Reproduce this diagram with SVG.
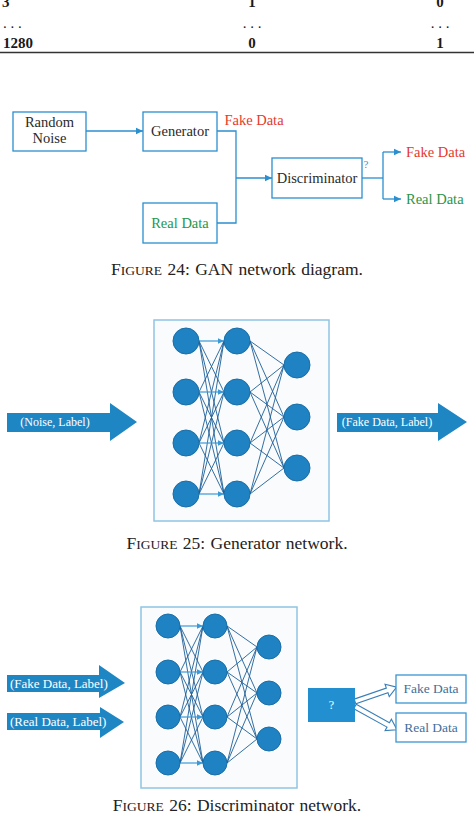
<svg xmlns="http://www.w3.org/2000/svg" width="474" height="816" viewBox="0 0 474 816">
<defs>
<style>
.tbl{font-family:"Liberation Serif",serif;font-weight:bold;font-size:15px;fill:#1a1a1a;}
.box{fill:#fff;stroke:#2b8fd0;stroke-width:1.3;}
.conn{fill:none;stroke:#2b8fd0;stroke-width:1.3;}
.t24{font-family:"Liberation Serif",serif;font-size:14.5px;fill:#2a2a2a;text-anchor:middle;}
.red{fill:#e6392d;}
.green{fill:#26964a;}
.cap{font-family:"Liberation Serif",serif;font-size:17.5px;fill:#222;text-anchor:middle;word-spacing:1px;}
.frame{fill:#f9fbfd;stroke:#8fc5e4;stroke-width:1.5;}
.node{fill:#1f82c2;stroke:#1a6ea8;stroke-width:1;}
.edge{stroke:#1d5f96;stroke-width:0.9;fill:none;}
.hedge{stroke:#3a9ad8;stroke-width:1.2;fill:none;}
.barrow{fill:#1f86c4;}
.wt{font-family:"Liberation Serif",serif;fill:#fff;}
.obox{fill:#fff;stroke:#3b95d2;stroke-width:1.3;}
.otxt{font-family:"Liberation Serif",serif;font-size:13.5px;fill:#3f6f9c;text-anchor:middle;}
.harrow{fill:#fff;stroke:#3a7fb8;stroke-width:1.1;stroke-linejoin:miter;}
</style>
<marker id="ah" markerWidth="8" markerHeight="8" refX="7" refY="4" orient="auto" markerUnits="userSpaceOnUse">
<path d="M0,0.8 L7,4 L0,7.2 Z" fill="#2b8fd0"/>
</marker>
<marker id="ah2" markerWidth="7" markerHeight="7" refX="6" refY="3.5" orient="auto" markerUnits="userSpaceOnUse">
<path d="M0,0.8 L6,3.5 L0,6.2 Z" fill="#3a9ad8"/>
</marker>
</defs>

<!-- table remnant -->
<g id="table">
<text class="tbl" x="2" y="7">3</text>
<text class="tbl" x="252" y="7" text-anchor="middle">1</text>
<text class="tbl" x="440" y="7" text-anchor="middle">0</text>
<text class="tbl" x="3" y="28" style="font-weight:normal">. . .</text>
<text class="tbl" x="252" y="28" text-anchor="middle" style="font-weight:normal">. . .</text>
<text class="tbl" x="440" y="28" text-anchor="middle" style="font-weight:normal">. . .</text>
<text class="tbl" x="3" y="48">1280</text>
<text class="tbl" x="252" y="48" text-anchor="middle">0</text>
<text class="tbl" x="440" y="48" text-anchor="middle">1</text>
<line x1="0" y1="52.5" x2="474" y2="52.5" stroke="#333" stroke-width="1.5"/>
</g>

<!-- Figure 24 -->
<g id="fig24-connectors">
<line class="conn" x1="86" y1="131" x2="143" y2="131" marker-end="url(#ah)"/>
<polyline class="conn" points="217,131 236,131 236,223 217,223"/>
<line class="conn" x1="236" y1="178" x2="272" y2="178" marker-end="url(#ah)"/>
<line class="conn" x1="362" y1="178" x2="383" y2="178"/>
<line class="conn" x1="383" y1="152" x2="383" y2="199"/>
<line class="conn" x1="383" y1="152" x2="401" y2="152" marker-end="url(#ah)"/>
<line class="conn" x1="383" y1="199" x2="401" y2="199" marker-end="url(#ah)"/>
</g>
<g id="random-noise">
<rect class="box" x="13" y="112" width="73" height="39"/>
<text class="t24" x="49.5" y="127">Random</text>
<text class="t24" x="49.5" y="143">Noise</text>
</g>
<g id="generator">
<rect class="box" x="143" y="112" width="74" height="39"/>
<text class="t24" x="180" y="136">Generator</text>
</g>
<g id="real-data-src">
<rect class="box" x="143" y="203" width="74" height="40"/>
<text class="t24 green" x="180" y="228">Real Data</text>
</g>
<g id="discriminator">
<rect class="box" x="272" y="158" width="90" height="40"/>
<text class="t24" x="317" y="183">Discriminator</text>
</g>
<g id="fig24-labels">
<text class="t24 red" x="254" y="125">Fake Data</text>
<text class="t24" x="366" y="168" style="fill:#3a93d0;font-size:11px">?</text>
<text class="t24 red" x="406" y="157" style="text-anchor:start">Fake Data</text>
<text class="t24 green" x="406" y="204" style="text-anchor:start">Real Data</text>
</g>
<text class="cap" x="237" y="275">F<tspan font-size="13.5">IGURE</tspan> 24: GAN network diagram.</text>

<!-- Figure 25 -->
<g id="fig25-frame"><rect class="frame" x="154" y="320" width="175" height="201"/></g>
<g id="fig25-connectors">
<path class="edge" d="M199,341 L224,392 M199,341 L224,443 M199,341 L224,494
M199,392 L224,341 M199,392 L224,443 M199,392 L224,494
M199,443 L224,341 M199,443 L224,392 M199,443 L224,494
M199,494 L224,341 M199,494 L224,392 M199,494 L224,443"/>
<line class="hedge" x1="199" y1="341" x2="224" y2="341" marker-end="url(#ah2)"/>
<line class="hedge" x1="199" y1="392" x2="224" y2="392" marker-end="url(#ah2)"/>
<line class="hedge" x1="199" y1="443" x2="224" y2="443" marker-end="url(#ah2)"/>
<line class="hedge" x1="199" y1="494" x2="224" y2="494" marker-end="url(#ah2)"/>
<path class="edge" d="M250,341 L284,365 M250,341 L284,417 M250,341 L284,468
M250,392 L284,365 M250,392 L284,417 M250,392 L284,468
M250,443 L284,365 M250,443 L284,417 M250,443 L284,468
M250,494 L284,365 M250,494 L284,417 M250,494 L284,468"/>
</g>
<g id="fig25-nodes">
<circle class="node" cx="186" cy="341" r="13"/>
<circle class="node" cx="186" cy="392" r="13"/>
<circle class="node" cx="186" cy="443" r="13"/>
<circle class="node" cx="186" cy="494" r="13"/>
<circle class="node" cx="237" cy="341" r="13"/>
<circle class="node" cx="237" cy="392" r="13"/>
<circle class="node" cx="237" cy="443" r="13"/>
<circle class="node" cx="237" cy="494" r="13"/>
<circle class="node" cx="297" cy="365" r="13"/>
<circle class="node" cx="297" cy="417" r="13"/>
<circle class="node" cx="297" cy="468" r="13"/>
</g>
<g id="noise-label-arrow">
<polygon class="barrow" points="7,413 110,413 110,403 137,422 110,441 110,432 7,432"/>
<text class="wt" x="55" y="426" font-size="12" text-anchor="middle">(Noise, Label)</text>
</g>
<g id="fake-label-arrow">
<polygon class="barrow" points="337,413 438,413 438,403 467,422 438,441 438,432 337,432"/>
<text class="wt" x="387" y="426" font-size="12" text-anchor="middle">(Fake Data, Label)</text>
</g>
<text class="cap" x="237" y="549">F<tspan font-size="13.5">IGURE</tspan> 25: Generator network.</text>

<!-- Figure 26 -->
<g id="fig26-frame"><rect class="frame" x="141" y="607" width="156" height="181"/></g>
<g id="fig26-connectors">
<path class="edge" d="M180,626 L203,672 M180,626 L203,717 M180,626 L203,763
M180,672 L203,626 M180,672 L203,717 M180,672 L203,763
M180,717 L203,626 M180,717 L203,672 M180,717 L203,763
M180,763 L203,626 M180,763 L203,672 M180,763 L203,717"/>
<line class="hedge" x1="180" y1="626" x2="203" y2="626" marker-end="url(#ah2)"/>
<line class="hedge" x1="180" y1="672" x2="203" y2="672" marker-end="url(#ah2)"/>
<line class="hedge" x1="180" y1="717" x2="203" y2="717" marker-end="url(#ah2)"/>
<line class="hedge" x1="180" y1="763" x2="203" y2="763" marker-end="url(#ah2)"/>
<path class="edge" d="M227,626 L257,647 M227,626 L257,693 M227,626 L257,739
M227,672 L257,647 M227,672 L257,693 M227,672 L257,739
M227,717 L257,647 M227,717 L257,693 M227,717 L257,739
M227,763 L257,647 M227,763 L257,693 M227,763 L257,739"/>
<polygon class="harrow" points="0,-2.5 34,-2.5 34,-6.5 44,0 34,6.5 34,2.5 0,2.5" transform="translate(355,701.5) rotate(-19)"/>
<polygon class="harrow" points="0,-2.5 38,-2.5 38,-6.5 48,0 38,6.5 38,2.5 0,2.5" transform="translate(355,706.5) rotate(29)"/>
</g>
<g id="fig26-nodes">
<circle class="node" cx="168" cy="626" r="12"/>
<circle class="node" cx="168" cy="672" r="12"/>
<circle class="node" cx="168" cy="717" r="12"/>
<circle class="node" cx="168" cy="763" r="12"/>
<circle class="node" cx="215" cy="626" r="12"/>
<circle class="node" cx="215" cy="672" r="12"/>
<circle class="node" cx="215" cy="717" r="12"/>
<circle class="node" cx="215" cy="763" r="12"/>
<circle class="node" cx="269" cy="647" r="12"/>
<circle class="node" cx="269" cy="693" r="12"/>
<circle class="node" cx="269" cy="739" r="12"/>
</g>
<g id="fake-in-arrow">
<polygon class="barrow" points="7,675 99,675 99,665 125,683 99,698 99,692 7,692"/>
<text class="wt" x="10" y="688" font-size="13">(Fake Data, Label)</text>
</g>
<g id="real-in-arrow">
<polygon class="barrow" points="7,713 100,713 100,707 124,722 100,738 100,730 7,730"/>
<text class="wt" x="10" y="726" font-size="13">(Real Data, Label)</text>
</g>
<g id="question-box">
<rect x="308" y="688" width="47" height="34" fill="#2290d0"/>
<text class="wt" x="331.5" y="709" font-size="12" text-anchor="middle">?</text>
</g>
<g id="fake-out">
<rect class="obox" x="396" y="675" width="70" height="28"/>
<text class="otxt" x="431" y="693">Fake Data</text>
</g>
<g id="real-out">
<rect class="obox" x="396" y="713" width="70" height="29"/>
<text class="otxt" x="431" y="732">Real Data</text>
</g>
<text class="cap" x="237" y="811">F<tspan font-size="13.5">IGURE</tspan> 26: Discriminator network.</text>
</svg>
